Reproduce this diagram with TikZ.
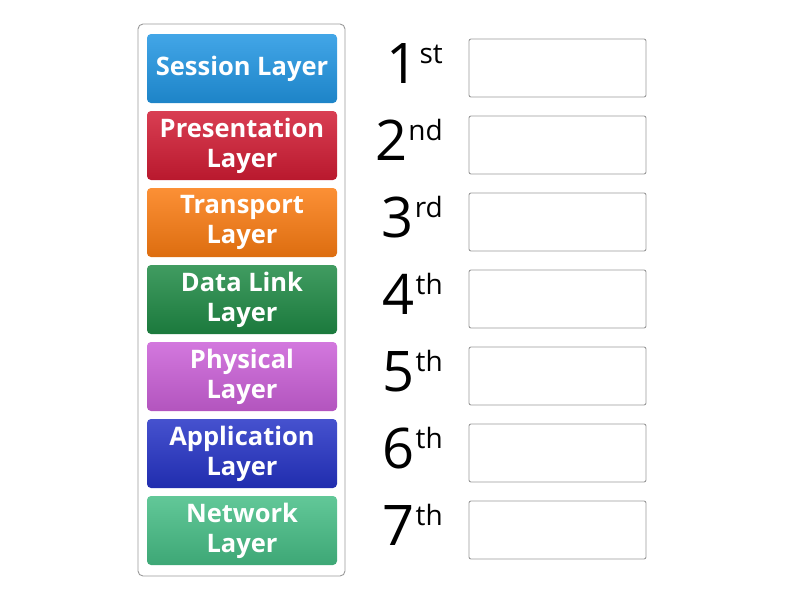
\documentclass[tikz,border=0pt]{standalone}
\usepackage{fontspec}
\setmainfont{Open Sans}
\definecolor{sessblue}{HTML}{2196E3}
\definecolor{presred}{HTML}{D21C34}
\definecolor{transorange}{HTML}{FB7C12}
\definecolor{linkgreen}{HTML}{1F8A45}
\definecolor{physviolet}{HTML}{CB60D8}
\definecolor{appblue}{HTML}{2533C6}
\definecolor{netgreen}{HTML}{46BE86}
\definecolor{panelgray}{HTML}{9A9A9A}
\tikzset{
  tile/.style={rounded corners=4pt, minimum width=190pt, minimum height=69pt,
    inner sep=0pt, align=center, text=white,
    font=\bfseries\fontsize{25.5}{30}\selectfont,
    top color=#1!85!white, middle color=#1, bottom color=#1!88!black},
  answer/.style={draw=panelgray, line width=0.9pt, rounded corners=2pt,
    minimum width=177pt, minimum height=58pt, inner sep=0pt},
  rank/.style={anchor=base east, inner sep=0pt,
    font=\fontsize{56}{56}\selectfont}
}
\newcommand{\ord}[2]{#1\hspace{1pt}\raisebox{20pt}{\fontsize{28}{28}\selectfont #2}}
\begin{document}
\begin{tikzpicture}[x=1pt,y=-1pt]
  \useasboundingbox (0,0) rectangle (800,600);
  % panel with the layer tiles
  \draw[panelgray, line width=0.9pt, rounded corners=5pt] (138,24) rectangle (345,576);
  \foreach \name/\col/\txt [count=\i from 0] in
     {sess/sessblue/Session Layer,
      pres/presred/{Presentation\\Layer},
      trans/transorange/{Transport\\Layer},
      link/linkgreen/{Data Link\\Layer},
      phys/physviolet/{Physical\\Layer},
      app/appblue/{Application\\Layer},
      net/netgreen/{Network\\Layer}}
    \node[tile=\col] (\name) at (242,68.5+77*\i) {\txt};
  % ranks and empty answer boxes
  \foreach \n/\suf [count=\i from 0] in {1/st,2/nd,3/rd,4/th,5/th,6/th,7/th}
  {
    \node[rank] (rank\n) at (443,83+77*\i) {\ord{\n}{\suf}};
    \node[answer] (box\n) at (557.5,68+77*\i) {};
  }
\end{tikzpicture}
\end{document}
